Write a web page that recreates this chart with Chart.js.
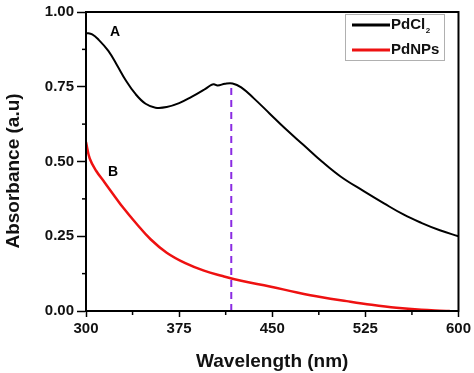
<!DOCTYPE html>
<html><head><meta charset="utf-8">
<script src="https://cdn.jsdelivr.net/npm/chart.js@4"></script>
<style>html,body{margin:0;padding:0;background:#fff}#c{display:block}</style>
</head><body>
<canvas id="c" width="474" height="373"></canvas>
<script>
const wavelengthA = [300,305,310,318,325,332,340,348,356,365,375,385,395,401,403,406,412,418,425,435,448,460,475,490,505,524,540,556,570,585,600];
const absorbanceA = [0.93,0.925,0.908,0.87,0.822,0.772,0.725,0.693,0.68,0.682,0.695,0.716,0.74,0.756,0.758,0.754,0.76,0.761,0.748,0.712,0.66,0.612,0.556,0.50,0.45,0.40,0.36,0.322,0.295,0.27,0.25];
const wavelengthB = [300,303,308,315,322,330,340,352,365,380,395,410,425,448,470,490,510,530,550,570,585,593];
const absorbanceB = [0.565,0.51,0.47,0.43,0.39,0.345,0.295,0.24,0.195,0.16,0.135,0.117,0.101,0.082,0.062,0.046,0.033,0.021,0.011,0.004,0.001,0.0];
const markerX = [417,417];
const markerY = [0,0.762];
const xTicks = [300,375,450,525,600];
const yTicks = [0,0.25,0.5,0.75,1.0];
const seriesNames = ['PdCl', 'PdNPs'];
const xTitle = 'Wavelength (nm)';
const yTitle = 'Absorbance (a.u)';

const toPts = (xs, ys) => xs.map((x,i)=>({x, y: ys[i]}));
const FONT = '"Liberation Sans", Arial, sans-serif';

const decor = {
  id: 'decor',
  afterDraw(chart) {
    const ctx = chart.ctx, a = chart.chartArea;
    const xs = chart.scales.x, ys = chart.scales.y;
    ctx.save();
    ctx.strokeStyle = '#000'; ctx.lineWidth = 2;
    ctx.strokeRect(a.left, a.top, a.right - a.left, a.bottom - a.top);
    // minor ticks
    ctx.lineWidth = 1.5;
    for (let i = 0; i < xTicks.length - 1; i++) {
      const v = (xTicks[i] + xTicks[i+1]) / 2, p = xs.getPixelForValue(v);
      ctx.beginPath(); ctx.moveTo(p, a.bottom); ctx.lineTo(p, a.bottom + 4); ctx.stroke();
    }
    for (let i = 0; i < yTicks.length - 1; i++) {
      const v = (yTicks[i] + yTicks[i+1]) / 2, p = ys.getPixelForValue(v);
      ctx.beginPath(); ctx.moveTo(a.left, p); ctx.lineTo(a.left - 4, p); ctx.stroke();
    }
    // axis titles
    ctx.fillStyle = '#111';
    ctx.font = 'bold 19px ' + FONT;
    ctx.textAlign = 'center'; ctx.textBaseline = 'alphabetic';
    ctx.fillText(xTitle, (a.left + a.right) / 2, 367);
    ctx.save();
    ctx.translate(19, 171); ctx.rotate(-Math.PI / 2);
    ctx.fillText(yTitle, 0, 0);
    ctx.restore();
    // labels A, B
    ctx.fillStyle = '#000';
    ctx.font = 'bold 14px ' + FONT;
    ctx.textAlign = 'center'; ctx.textBaseline = 'middle';
    ctx.fillText('A', 115, 32);
    ctx.fillText('B', 113, 172);
    // legend
    ctx.fillStyle = '#fff';
    ctx.strokeStyle = '#b0b0b0'; ctx.lineWidth = 1;
    ctx.fillRect(345.5, 14.5, 99, 46);
    ctx.strokeRect(345.5, 14.5, 99, 46);
    ctx.lineWidth = 3;
    ctx.strokeStyle = '#000';
    ctx.beginPath(); ctx.moveTo(352, 25); ctx.lineTo(390, 25); ctx.stroke();
    ctx.strokeStyle = '#ee1111';
    ctx.beginPath(); ctx.moveTo(352, 50); ctx.lineTo(390, 50); ctx.stroke();
    ctx.fillStyle = '#111';
    ctx.textAlign = 'left'; ctx.textBaseline = 'middle';
    ctx.font = 'bold 15px ' + FONT;
    ctx.fillText(seriesNames[0], 391, 25);
    const w = ctx.measureText(seriesNames[0]).width;
    ctx.font = 'bold 8px ' + FONT;
    ctx.fillText('2', 391 + w + 0.5, 31);
    ctx.font = 'bold 15px ' + FONT;
    ctx.fillText(seriesNames[1], 391, 50);
    ctx.restore();
  }
};

new Chart(document.getElementById('c'), {
  type: 'line',
  data: {
    datasets: [
      { label: 'PdCl2', data: toPts(wavelengthA, absorbanceA), borderColor: '#000', borderWidth: 2, pointRadius: 0, tension: 0.4, fill: false },
      { label: 'PdNPs', data: toPts(wavelengthB, absorbanceB), borderColor: '#ee1111', borderWidth: 2.5, pointRadius: 0, tension: 0.4, fill: false },
      { label: 'marker', data: toPts(markerX, markerY), borderColor: '#8a2be2', borderWidth: 2, borderDash: [7,5], pointRadius: 0, fill: false }
    ]
  },
  options: {
    responsive: false, animation: false,
    layout: { padding: { top: 8, right: 15, left: 0, bottom: 0 } },
    plugins: { legend: { display: false }, tooltip: { enabled: false } },
    scales: {
      x: {
        type: 'linear', min: 300, max: 600,
        afterBuildTicks: s => { s.ticks = xTicks.map(v => ({ value: v })); },
        afterFit: s => { s.height = 62; },
        grid: { drawOnChartArea: false, tickLength: 6, tickWidth: 1.5, tickColor: '#000' },
        border: { color: '#000', width: 2 },
        ticks: { color: '#111', padding: 3, maxRotation: 0, font: { family: FONT, size: 15, weight: 'bold' } },
        title: { display: false }
      },
      y: {
        min: 0, max: 1,
        afterBuildTicks: s => { s.ticks = yTicks.map(v => ({ value: v })); },
        afterFit: s => { s.width = 86; },
        grid: { drawOnChartArea: false, tickLength: 9, tickWidth: 1.5, tickColor: '#000' },
        border: { color: '#000', width: 2 },
        ticks: { color: '#111', padding: 3, callback: v => v.toFixed(2), font: { family: FONT, size: 15, weight: 'bold' } },
        title: { display: false }
      }
    }
  },
  plugins: [decor]
});
</script>
</body></html>
